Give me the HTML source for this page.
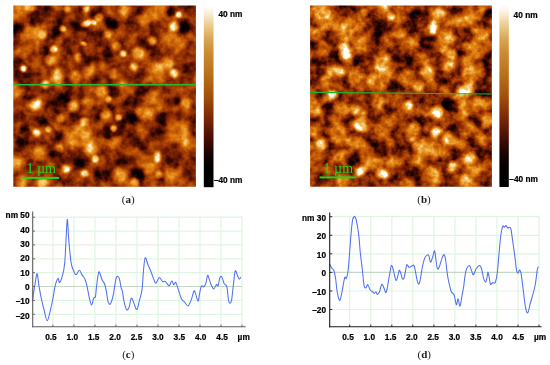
<!DOCTYPE html>
<html><head><meta charset="utf-8"><title>AFM figure</title>
<style>
html,body{margin:0;padding:0;background:#fff;}
svg{display:block}
.ax{font-family:"Liberation Sans",sans-serif;font-weight:bold;font-size:8.3px;fill:#000;stroke:#000;stroke-width:0.2px}
.sb{font-family:"Liberation Serif",serif;font-size:14px;fill:#1fd41f}
.cap{font-family:"Liberation Serif",serif;font-size:11px;fill:#1a1a1a}
</style></head><body>
<svg width="550" height="365" viewBox="0 0 550 365">
<defs>
<filter id="fa" filterUnits="userSpaceOnUse" x="3.3000000000000007" y="-4.4" width="202.6" height="201.2" color-interpolation-filters="sRGB">
<feTurbulence type="fractalNoise" baseFrequency="0.095" numOctaves="3" seed="7" result="t"/>
<feColorMatrix in="t" type="matrix" values="0 1 0 0 0  0 1 0 0 0  0 1 0 0 0  0 0 0 0 1" result="n"/>
<feGaussianBlur in="SourceGraphic" stdDeviation="0.7" result="b"/>
<feComposite in="b" in2="n" operator="arithmetic" k1="0" k2="1.25" k3="0.65" k4="-0.555" result="h0"/>
<feGaussianBlur in="h0" stdDeviation="0.6" result="h"/>
<feComponentTransfer in="h">
<feFuncR type="table" tableValues="0.000 0.025 0.049 0.074 0.125 0.184 0.243 0.300 0.357 0.413 0.466 0.512 0.559 0.603 0.637 0.672 0.706 0.735 0.765 0.794 0.820 0.844 0.869 0.889 0.906 0.923 0.937 0.946 0.955 0.967 0.979 0.990 1.000"/>
<feFuncG type="table" tableValues="0.000 0.002 0.005 0.007 0.018 0.030 0.042 0.060 0.082 0.104 0.128 0.155 0.182 0.210 0.239 0.269 0.298 0.327 0.357 0.386 0.423 0.461 0.499 0.540 0.584 0.628 0.675 0.726 0.776 0.834 0.894 0.949 1.000"/>
<feFuncB type="table" tableValues="0.000 0.000 0.000 0.000 0.002 0.004 0.007 0.009 0.010 0.011 0.012 0.013 0.015 0.016 0.017 0.018 0.020 0.023 0.027 0.031 0.043 0.058 0.073 0.105 0.149 0.193 0.254 0.340 0.425 0.563 0.710 0.855 1.000"/>
</feComponentTransfer>
</filter>
<filter id="fb" filterUnits="userSpaceOnUse" x="300.1" y="-4.4" width="201.8" height="201.2" color-interpolation-filters="sRGB">
<feTurbulence type="fractalNoise" baseFrequency="0.12" numOctaves="3" seed="23" result="t"/>
<feColorMatrix in="t" type="matrix" values="0 1 0 0 0  0 1 0 0 0  0 1 0 0 0  0 0 0 0 1" result="n"/>
<feGaussianBlur in="SourceGraphic" stdDeviation="0.7" result="b"/>
<feComposite in="b" in2="n" operator="arithmetic" k1="0" k2="1.25" k3="0.7" k4="-0.565" result="h0"/>
<feGaussianBlur in="h0" stdDeviation="0.6" result="h"/>
<feComponentTransfer in="h">
<feFuncR type="table" tableValues="0.000 0.025 0.049 0.074 0.125 0.184 0.243 0.300 0.357 0.413 0.466 0.512 0.559 0.603 0.637 0.672 0.706 0.735 0.765 0.794 0.820 0.844 0.869 0.889 0.906 0.923 0.937 0.946 0.955 0.967 0.979 0.990 1.000"/>
<feFuncG type="table" tableValues="0.000 0.002 0.005 0.007 0.018 0.030 0.042 0.060 0.082 0.104 0.128 0.155 0.182 0.210 0.239 0.269 0.298 0.327 0.357 0.386 0.423 0.461 0.499 0.540 0.584 0.628 0.675 0.726 0.776 0.834 0.894 0.949 1.000"/>
<feFuncB type="table" tableValues="0.000 0.000 0.000 0.000 0.002 0.004 0.007 0.009 0.010 0.011 0.012 0.013 0.015 0.016 0.017 0.018 0.020 0.023 0.027 0.031 0.043 0.058 0.073 0.105 0.149 0.193 0.254 0.340 0.425 0.563 0.710 0.855 1.000"/>
</feComponentTransfer>
</filter>
<clipPath id="ca"><rect x="13.3" y="5.6" width="182.6" height="181.2"/></clipPath>
<clipPath id="cbp"><rect x="310.1" y="5.6" width="181.8" height="181.2"/></clipPath>
<radialGradient id="g0"><stop offset="0" stop-color="rgb(173,173,173)" stop-opacity="0.75"/><stop offset="0.42" stop-color="rgb(173,173,173)" stop-opacity="0.66"/><stop offset="0.75" stop-color="rgb(173,173,173)" stop-opacity="0.22"/><stop offset="1" stop-color="rgb(173,173,173)" stop-opacity="0"/></radialGradient>
<radialGradient id="g1"><stop offset="0" stop-color="rgb(96,96,96)" stop-opacity="0.7"/><stop offset="0.42" stop-color="rgb(96,96,96)" stop-opacity="0.62"/><stop offset="0.75" stop-color="rgb(96,96,96)" stop-opacity="0.21"/><stop offset="1" stop-color="rgb(96,96,96)" stop-opacity="0"/></radialGradient>
<radialGradient id="g2"><stop offset="0" stop-color="rgb(201,201,201)" stop-opacity="0.8"/><stop offset="0.42" stop-color="rgb(201,201,201)" stop-opacity="0.70"/><stop offset="0.75" stop-color="rgb(201,201,201)" stop-opacity="0.24"/><stop offset="1" stop-color="rgb(201,201,201)" stop-opacity="0"/></radialGradient>
<radialGradient id="g3"><stop offset="0" stop-color="rgb(91,91,91)" stop-opacity="0.8"/><stop offset="0.42" stop-color="rgb(91,91,91)" stop-opacity="0.70"/><stop offset="0.75" stop-color="rgb(91,91,91)" stop-opacity="0.24"/><stop offset="1" stop-color="rgb(91,91,91)" stop-opacity="0"/></radialGradient>
<radialGradient id="g4"><stop offset="0" stop-color="rgb(221,221,221)" stop-opacity="0.85"/><stop offset="0.42" stop-color="rgb(221,221,221)" stop-opacity="0.75"/><stop offset="0.75" stop-color="rgb(221,221,221)" stop-opacity="0.26"/><stop offset="1" stop-color="rgb(221,221,221)" stop-opacity="0"/></radialGradient>
<radialGradient id="g5"><stop offset="0" stop-color="rgb(71,71,71)" stop-opacity="0.85"/><stop offset="0.42" stop-color="rgb(71,71,71)" stop-opacity="0.75"/><stop offset="0.75" stop-color="rgb(71,71,71)" stop-opacity="0.26"/><stop offset="1" stop-color="rgb(71,71,71)" stop-opacity="0"/></radialGradient>
<radialGradient id="g6"><stop offset="0" stop-color="rgb(51,51,51)" stop-opacity="0.85"/><stop offset="0.42" stop-color="rgb(51,51,51)" stop-opacity="0.75"/><stop offset="0.75" stop-color="rgb(51,51,51)" stop-opacity="0.26"/><stop offset="1" stop-color="rgb(51,51,51)" stop-opacity="0"/></radialGradient>
<radialGradient id="g7"><stop offset="0" stop-color="rgb(237,237,237)" stop-opacity="0.9"/><stop offset="0.42" stop-color="rgb(237,237,237)" stop-opacity="0.79"/><stop offset="0.75" stop-color="rgb(237,237,237)" stop-opacity="0.27"/><stop offset="1" stop-color="rgb(237,237,237)" stop-opacity="0"/></radialGradient>
<radialGradient id="g8"><stop offset="0" stop-color="rgb(255,255,255)" stop-opacity="0.95"/><stop offset="0.42" stop-color="rgb(255,255,255)" stop-opacity="0.84"/><stop offset="0.75" stop-color="rgb(255,255,255)" stop-opacity="0.28"/><stop offset="1" stop-color="rgb(255,255,255)" stop-opacity="0"/></radialGradient>
<linearGradient id="cb" x1="0" y1="0" x2="0" y2="1">
<stop offset="0.000" stop-color="rgb(255,255,255)"/><stop offset="0.040" stop-color="rgb(250,240,220)"/><stop offset="0.100" stop-color="rgb(238,208,150)"/><stop offset="0.180" stop-color="rgb(218,168,84)"/><stop offset="0.250" stop-color="rgb(205,142,54)"/><stop offset="0.380" stop-color="rgb(186,112,24)"/><stop offset="0.500" stop-color="rgb(162,80,9)"/><stop offset="0.600" stop-color="rgb(130,46,7)"/><stop offset="0.680" stop-color="rgb(95,24,5)"/><stop offset="0.750" stop-color="rgb(60,11,4)"/><stop offset="0.820" stop-color="rgb(24,3,2)"/><stop offset="0.880" stop-color="rgb(5,0,0)"/><stop offset="1.000" stop-color="rgb(0,0,0)"/>
</linearGradient>
</defs>
<rect width="550" height="365" fill="#fff"/>
<!-- panel a -->
<g clip-path="url(#ca)"><g filter="url(#fa)">
<rect x="1.3000000000000007" y="-6.4" width="206.6" height="205.2" fill="#808080"/>
<ellipse cx="22" cy="52.5" rx="12.0" ry="12.0" fill="url(#g0)"/>
<ellipse cx="189.3" cy="9" rx="10.0" ry="10.0" fill="url(#g1)"/>
<ellipse cx="87.3" cy="100.1" rx="10.0" ry="10.0" fill="url(#g0)"/>
<ellipse cx="28.7" cy="93.4" rx="10.0" ry="10.0" fill="url(#g1)"/>
<ellipse cx="28.7" cy="167.8" rx="10.0" ry="10.0" fill="url(#g1)"/>
<ellipse cx="114" cy="142.7" rx="12.0" ry="12.0" fill="url(#g0)"/>
<ellipse cx="179.3" cy="142.7" rx="8.0" ry="8.0" fill="url(#g1)"/>
<ellipse cx="16.2" cy="11.5" rx="12.0" ry="12.0" fill="url(#g2)"/>
<ellipse cx="32" cy="32.4" rx="20.0" ry="12.0" fill="url(#g2)" transform="rotate(20 32 32.4)"/>
<ellipse cx="75.5" cy="25.7" rx="10.0" ry="10.0" fill="url(#g3)"/>
<ellipse cx="83.9" cy="34.1" rx="12.0" ry="12.0" fill="url(#g3)"/>
<ellipse cx="70.5" cy="45.8" rx="10.0" ry="10.0" fill="url(#g3)"/>
<ellipse cx="43.8" cy="50.8" rx="8.0" ry="8.0" fill="url(#g3)"/>
<ellipse cx="62.2" cy="57.5" rx="6.0" ry="6.0" fill="url(#g3)"/>
<ellipse cx="99" cy="37.4" rx="10.0" ry="10.0" fill="url(#g3)"/>
<ellipse cx="45.4" cy="10.7" rx="14.0" ry="8.0" fill="url(#g3)"/>
<ellipse cx="62.2" cy="17.4" rx="10.0" ry="10.0" fill="url(#g3)"/>
<ellipse cx="95.6" cy="10.7" rx="10.0" ry="10.0" fill="url(#g3)"/>
<ellipse cx="145.8" cy="19" rx="12.0" ry="12.0" fill="url(#g2)"/>
<ellipse cx="160.9" cy="14" rx="12.0" ry="12.0" fill="url(#g2)"/>
<ellipse cx="169.2" cy="40" rx="12.0" ry="12.0" fill="url(#g2)"/>
<ellipse cx="179.3" cy="45.8" rx="10.0" ry="10.0" fill="url(#g2)"/>
<ellipse cx="144.1" cy="42.5" rx="10.0" ry="10.0" fill="url(#g3)"/>
<ellipse cx="159.2" cy="49.1" rx="12.0" ry="12.0" fill="url(#g3)"/>
<ellipse cx="132.4" cy="25.7" rx="10.0" ry="10.0" fill="url(#g3)"/>
<ellipse cx="154.2" cy="25.7" rx="8.0" ry="8.0" fill="url(#g3)"/>
<ellipse cx="192.6" cy="45.8" rx="8.0" ry="8.0" fill="url(#g3)"/>
<ellipse cx="130.8" cy="60.8" rx="8.0" ry="8.0" fill="url(#g3)"/>
<ellipse cx="154.2" cy="59.2" rx="8.0" ry="8.0" fill="url(#g3)"/>
<ellipse cx="137.4" cy="9" rx="8.0" ry="8.0" fill="url(#g3)"/>
<ellipse cx="17" cy="90" rx="10.0" ry="10.0" fill="url(#g2)"/>
<ellipse cx="90.6" cy="71.7" rx="10.0" ry="10.0" fill="url(#g2)"/>
<ellipse cx="78.9" cy="95.1" rx="10.0" ry="10.0" fill="url(#g3)"/>
<ellipse cx="18.7" cy="113.5" rx="10.0" ry="10.0" fill="url(#g3)"/>
<ellipse cx="95.6" cy="80" rx="10.0" ry="10.0" fill="url(#g3)"/>
<ellipse cx="40.4" cy="121.9" rx="10.0" ry="10.0" fill="url(#g3)"/>
<ellipse cx="99" cy="113.5" rx="10.0" ry="10.0" fill="url(#g3)"/>
<ellipse cx="33.7" cy="71.7" rx="8.0" ry="8.0" fill="url(#g3)"/>
<ellipse cx="157.5" cy="101.8" rx="16.0" ry="16.0" fill="url(#g2)"/>
<ellipse cx="125.7" cy="90.1" rx="14.0" ry="14.0" fill="url(#g2)"/>
<ellipse cx="155.8" cy="70" rx="16.0" ry="16.0" fill="url(#g2)"/>
<ellipse cx="114" cy="73.4" rx="8.0" ry="8.0" fill="url(#g2)"/>
<ellipse cx="152.5" cy="108.5" rx="8.0" ry="8.0" fill="url(#g3)"/>
<ellipse cx="191" cy="70" rx="10.0" ry="10.0" fill="url(#g3)"/>
<ellipse cx="142.5" cy="75" rx="8.0" ry="8.0" fill="url(#g3)"/>
<ellipse cx="110.7" cy="110.2" rx="8.0" ry="8.0" fill="url(#g3)"/>
<ellipse cx="179.3" cy="115.2" rx="10.0" ry="10.0" fill="url(#g3)"/>
<ellipse cx="122.4" cy="75" rx="8.0" ry="8.0" fill="url(#g3)"/>
<ellipse cx="77.2" cy="139.4" rx="16.0" ry="16.0" fill="url(#g2)"/>
<ellipse cx="15.3" cy="162.8" rx="12.0" ry="12.0" fill="url(#g2)"/>
<ellipse cx="38.8" cy="152.8" rx="10.0" ry="10.0" fill="url(#g2)"/>
<ellipse cx="22" cy="181.2" rx="10.0" ry="10.0" fill="url(#g2)"/>
<ellipse cx="83.9" cy="161.1" rx="14.0" ry="14.0" fill="url(#g3)"/>
<ellipse cx="60.5" cy="134.4" rx="8.0" ry="8.0" fill="url(#g3)"/>
<ellipse cx="67.2" cy="182.9" rx="10.0" ry="10.0" fill="url(#g3)"/>
<ellipse cx="52.1" cy="142.7" rx="8.0" ry="8.0" fill="url(#g3)"/>
<ellipse cx="99" cy="132.7" rx="8.0" ry="8.0" fill="url(#g3)"/>
<ellipse cx="70.5" cy="156" rx="8.0" ry="8.0" fill="url(#g3)"/>
<ellipse cx="177.6" cy="132.7" rx="16.0" ry="16.0" fill="url(#g2)"/>
<ellipse cx="144.1" cy="169.5" rx="10.0" ry="10.0" fill="url(#g2)"/>
<ellipse cx="152.5" cy="161" rx="12.0" ry="12.0" fill="url(#g2)"/>
<ellipse cx="189.3" cy="142.7" rx="10.0" ry="10.0" fill="url(#g2)"/>
<ellipse cx="132.4" cy="139.4" rx="12.0" ry="12.0" fill="url(#g3)"/>
<ellipse cx="165.9" cy="152.8" rx="8.0" ry="8.0" fill="url(#g3)"/>
<ellipse cx="109" cy="176.2" rx="10.0" ry="10.0" fill="url(#g3)"/>
<ellipse cx="187.6" cy="174.5" rx="10.0" ry="10.0" fill="url(#g3)"/>
<ellipse cx="159.2" cy="181.2" rx="8.0" ry="8.0" fill="url(#g3)"/>
<ellipse cx="154.2" cy="132.7" rx="10.0" ry="10.0" fill="url(#g3)"/>
<ellipse cx="122.4" cy="159.4" rx="10.0" ry="10.0" fill="url(#g3)"/>
<ellipse cx="145.8" cy="147.7" rx="10.0" ry="10.0" fill="url(#g3)"/>
<ellipse cx="50.1" cy="60.8" rx="8.0" ry="8.0" fill="url(#g4)"/>
<ellipse cx="78.9" cy="57.5" rx="6.0" ry="6.0" fill="url(#g4)"/>
<ellipse cx="29.6" cy="7" rx="8.0" ry="8.0" fill="url(#g4)"/>
<ellipse cx="67.2" cy="9" rx="5.0" ry="5.0" fill="url(#g4)"/>
<ellipse cx="86.4" cy="9" rx="5.0" ry="5.0" fill="url(#g4)"/>
<ellipse cx="99" cy="17.4" rx="6.0" ry="6.0" fill="url(#g4)"/>
<ellipse cx="56.3" cy="33.3" rx="10.0" ry="10.0" fill="url(#g5)"/>
<ellipse cx="17" cy="29" rx="10.0" ry="10.0" fill="url(#g5)"/>
<ellipse cx="16.2" cy="60.8" rx="10.0" ry="10.0" fill="url(#g5)"/>
<ellipse cx="87.2" cy="57.5" rx="10.0" ry="10.0" fill="url(#g5)"/>
<ellipse cx="138.3" cy="53.3" rx="10.0" ry="10.0" fill="url(#g4)"/>
<ellipse cx="152.5" cy="40.8" rx="6.0" ry="6.0" fill="url(#g4)"/>
<ellipse cx="124.9" cy="10.7" rx="8.0" ry="8.0" fill="url(#g4)"/>
<ellipse cx="168.4" cy="61.7" rx="8.0" ry="8.0" fill="url(#g4)"/>
<ellipse cx="108.2" cy="34.1" rx="6.0" ry="6.0" fill="url(#g4)"/>
<ellipse cx="116.5" cy="45.8" rx="6.0" ry="6.0" fill="url(#g4)"/>
<ellipse cx="170.9" cy="12.4" rx="8.0" ry="8.0" fill="url(#g5)"/>
<ellipse cx="107.3" cy="52.5" rx="8.0" ry="8.0" fill="url(#g5)"/>
<ellipse cx="57.2" cy="77.5" rx="8.0" ry="14.0" fill="url(#g4)"/>
<ellipse cx="75.5" cy="76.7" rx="8.0" ry="8.0" fill="url(#g4)"/>
<ellipse cx="60.5" cy="118.5" rx="6.0" ry="6.0" fill="url(#g4)"/>
<ellipse cx="102.3" cy="91.8" rx="8.0" ry="8.0" fill="url(#g4)"/>
<ellipse cx="23.7" cy="78.4" rx="12.0" ry="12.0" fill="url(#g5)"/>
<ellipse cx="52.1" cy="105.1" rx="12.0" ry="12.0" fill="url(#g5)"/>
<ellipse cx="75.5" cy="116.8" rx="10.0" ry="10.0" fill="url(#g5)"/>
<ellipse cx="134.1" cy="66.7" rx="6.0" ry="6.0" fill="url(#g4)"/>
<ellipse cx="105.7" cy="115.2" rx="8.0" ry="8.0" fill="url(#g4)"/>
<ellipse cx="185.9" cy="102.6" rx="8.0" ry="8.0" fill="url(#g4)"/>
<ellipse cx="142.5" cy="111.8" rx="16.0" ry="10.0" fill="url(#g4)" transform="rotate(20 142.5 111.8)"/>
<ellipse cx="105.7" cy="90" rx="6.0" ry="6.0" fill="url(#g4)"/>
<ellipse cx="114" cy="93.4" rx="10.0" ry="10.0" fill="url(#g5)"/>
<ellipse cx="139.1" cy="90.1" rx="10.0" ry="10.0" fill="url(#g5)"/>
<ellipse cx="129.1" cy="118.5" rx="16.0" ry="10.0" fill="url(#g5)" transform="rotate(-20 129.1 118.5)"/>
<ellipse cx="172.6" cy="101" rx="10.0" ry="10.0" fill="url(#g5)"/>
<ellipse cx="161.7" cy="118.5" rx="10.0" ry="10.0" fill="url(#g5)"/>
<ellipse cx="59.7" cy="148.6" rx="6.0" ry="6.0" fill="url(#g4)"/>
<ellipse cx="83.9" cy="131" rx="14.0" ry="14.0" fill="url(#g4)"/>
<ellipse cx="92.3" cy="148.6" rx="10.0" ry="10.0" fill="url(#g4)"/>
<ellipse cx="42.1" cy="183.7" rx="8.0" ry="8.0" fill="url(#g4)"/>
<ellipse cx="22.9" cy="144.4" rx="10.0" ry="10.0" fill="url(#g5)"/>
<ellipse cx="24.5" cy="131" rx="8.0" ry="8.0" fill="url(#g5)"/>
<ellipse cx="56.3" cy="156.1" rx="10.0" ry="10.0" fill="url(#g5)"/>
<ellipse cx="100.6" cy="174.5" rx="10.0" ry="10.0" fill="url(#g5)"/>
<ellipse cx="120.7" cy="176.2" rx="10.0" ry="10.0" fill="url(#g4)"/>
<ellipse cx="171.7" cy="172.8" rx="12.0" ry="12.0" fill="url(#g4)"/>
<ellipse cx="159.2" cy="174.5" rx="6.0" ry="6.0" fill="url(#g4)"/>
<ellipse cx="108.2" cy="132.7" rx="12.0" ry="12.0" fill="url(#g5)"/>
<ellipse cx="172.6" cy="161.1" rx="12.0" ry="12.0" fill="url(#g5)"/>
<ellipse cx="35.4" cy="19" rx="10.0" ry="10.0" fill="url(#g6)"/>
<ellipse cx="110.7" cy="23.2" rx="10.0" ry="10.0" fill="url(#g6)"/>
<ellipse cx="184.3" cy="26.6" rx="10.0" ry="10.0" fill="url(#g6)"/>
<ellipse cx="62.2" cy="98.4" rx="10.0" ry="10.0" fill="url(#g6)"/>
<ellipse cx="130.8" cy="101.8" rx="12.0" ry="12.0" fill="url(#g6)"/>
<ellipse cx="137.4" cy="173.7" rx="10.0" ry="10.0" fill="url(#g6)"/>
<ellipse cx="63" cy="28.7" rx="4.7" ry="4.7" fill="url(#g7)"/>
<ellipse cx="94" cy="22.4" rx="3.9" ry="3.9" fill="url(#g7)"/>
<ellipse cx="83.6" cy="43.8" rx="4.7" ry="3.1" fill="url(#g7)" transform="rotate(20 83.6 43.8)"/>
<ellipse cx="53.8" cy="49.1" rx="5.4" ry="5.4" fill="url(#g7)"/>
<ellipse cx="174.2" cy="26.6" rx="7.0" ry="7.0" fill="url(#g7)"/>
<ellipse cx="178.9" cy="14.9" rx="4.7" ry="4.7" fill="url(#g7)"/>
<ellipse cx="45.4" cy="84.7" rx="6.2" ry="6.2" fill="url(#g7)"/>
<ellipse cx="35.4" cy="105.1" rx="10.8" ry="7.8" fill="url(#g7)"/>
<ellipse cx="73" cy="106.8" rx="7.8" ry="7.8" fill="url(#g7)"/>
<ellipse cx="84.7" cy="121.9" rx="6.2" ry="6.2" fill="url(#g7)"/>
<ellipse cx="108.2" cy="99.3" rx="4.7" ry="4.7" fill="url(#g7)"/>
<ellipse cx="118.7" cy="117.7" rx="4.7" ry="4.7" fill="url(#g7)"/>
<ellipse cx="36.7" cy="133" rx="5.4" ry="5.4" fill="url(#g7)"/>
<ellipse cx="48.5" cy="129.3" rx="4.7" ry="4.7" fill="url(#g7)"/>
<ellipse cx="84.7" cy="173.7" rx="5.4" ry="5.4" fill="url(#g7)"/>
<ellipse cx="66.3" cy="168.6" rx="6.2" ry="6.2" fill="url(#g7)"/>
<ellipse cx="113.7" cy="128.5" rx="4.7" ry="4.7" fill="url(#g7)"/>
<ellipse cx="134.9" cy="182.9" rx="6.2" ry="6.2" fill="url(#g7)"/>
<ellipse cx="42.1" cy="34.9" rx="6.2" ry="6.2" fill="url(#g8)"/>
<ellipse cx="87.2" cy="23.2" rx="7.8" ry="4.7" fill="url(#g8)" transform="rotate(-20 87.2 23.2)"/>
<ellipse cx="123.2" cy="53.8" rx="4.7" ry="4.7" fill="url(#g8)"/>
<ellipse cx="23.4" cy="68.7" rx="4.7" ry="4.7" fill="url(#g8)"/>
<ellipse cx="174.2" cy="73.4" rx="6.2" ry="6.2" fill="url(#g8)"/>
<ellipse cx="95.3" cy="159.1" rx="5.4" ry="5.4" fill="url(#g8)"/>
<ellipse cx="157.2" cy="156.9" rx="5.4" ry="7.8" fill="url(#g8)"/>
</g></g>
<line x1="13.3" y1="84.7" x2="195.9" y2="84.7" stroke="#25b830" stroke-width="1.5"/>
<rect x="22.4" y="176.9" width="36.8" height="2" fill="#1fd41f"/>
<text class="sb" x="41.2" y="173" text-anchor="middle">1 µm</text>
<rect x="203.8" y="5.6" width="9.7" height="181.6" fill="url(#cb)"/>
<text class="ax" x="218.4" y="17">40 nm</text>
<text class="ax" x="213.9" y="182.8">–40 nm</text>
<text class="cap" x="128.2" y="203.1" text-anchor="middle">(<tspan font-weight="bold">a</tspan>)</text>
<!-- panel b -->
<g clip-path="url(#cbp)"><g filter="url(#fb)">
<rect x="298.1" y="-6.4" width="205.8" height="205.2" fill="#808080"/>
<ellipse cx="325.7" cy="47.5" rx="10.0" ry="10.0" fill="url(#g0)"/>
<ellipse cx="384.3" cy="44.1" rx="10.0" ry="10.0" fill="url(#g0)"/>
<ellipse cx="422.7" cy="59.2" rx="10.0" ry="10.0" fill="url(#g0)"/>
<ellipse cx="335.8" cy="116.8" rx="10.0" ry="10.0" fill="url(#g0)"/>
<ellipse cx="444.5" cy="86.7" rx="8.0" ry="8.0" fill="url(#g0)"/>
<ellipse cx="389.3" cy="139.4" rx="10.0" ry="10.0" fill="url(#g0)"/>
<ellipse cx="314" cy="159.4" rx="10.0" ry="10.0" fill="url(#g0)"/>
<ellipse cx="369.2" cy="151.1" rx="10.0" ry="10.0" fill="url(#g0)"/>
<ellipse cx="484.6" cy="166.1" rx="10.0" ry="10.0" fill="url(#g0)"/>
<ellipse cx="337.4" cy="22.4" rx="14.0" ry="14.0" fill="url(#g2)"/>
<ellipse cx="345.8" cy="32.4" rx="14.0" ry="14.0" fill="url(#g2)"/>
<ellipse cx="354.2" cy="20.7" rx="12.0" ry="12.0" fill="url(#g2)"/>
<ellipse cx="314" cy="34.1" rx="10.0" ry="10.0" fill="url(#g2)"/>
<ellipse cx="325.7" cy="25.7" rx="10.0" ry="10.0" fill="url(#g2)"/>
<ellipse cx="397.6" cy="32.4" rx="10.0" ry="10.0" fill="url(#g2)"/>
<ellipse cx="352.5" cy="10.7" rx="10.0" ry="10.0" fill="url(#g3)"/>
<ellipse cx="372.5" cy="17.4" rx="12.0" ry="12.0" fill="url(#g3)"/>
<ellipse cx="372.5" cy="49.1" rx="14.0" ry="14.0" fill="url(#g3)"/>
<ellipse cx="314" cy="45.8" rx="8.0" ry="8.0" fill="url(#g3)"/>
<ellipse cx="375.9" cy="37.4" rx="12.0" ry="12.0" fill="url(#g3)"/>
<ellipse cx="319" cy="59.2" rx="10.0" ry="10.0" fill="url(#g3)"/>
<ellipse cx="330.7" cy="37.4" rx="10.0" ry="10.0" fill="url(#g3)"/>
<ellipse cx="394.3" cy="54.2" rx="10.0" ry="10.0" fill="url(#g3)"/>
<ellipse cx="314" cy="22.4" rx="8.0" ry="8.0" fill="url(#g3)"/>
<ellipse cx="419.4" cy="40" rx="10.0" ry="10.0" fill="url(#g2)"/>
<ellipse cx="403.5" cy="12.4" rx="12.0" ry="12.0" fill="url(#g2)"/>
<ellipse cx="454.5" cy="22.4" rx="10.0" ry="10.0" fill="url(#g2)"/>
<ellipse cx="474.6" cy="49.1" rx="14.0" ry="14.0" fill="url(#g2)"/>
<ellipse cx="481.3" cy="34.1" rx="12.0" ry="12.0" fill="url(#g2)"/>
<ellipse cx="484.6" cy="9" rx="10.0" ry="10.0" fill="url(#g2)"/>
<ellipse cx="408.5" cy="43.3" rx="8.0" ry="8.0" fill="url(#g2)"/>
<ellipse cx="467.9" cy="60.9" rx="10.0" ry="10.0" fill="url(#g2)"/>
<ellipse cx="412.7" cy="29.1" rx="12.0" ry="12.0" fill="url(#g3)"/>
<ellipse cx="461.2" cy="37.4" rx="12.0" ry="12.0" fill="url(#g3)"/>
<ellipse cx="456.2" cy="10.7" rx="10.0" ry="10.0" fill="url(#g3)"/>
<ellipse cx="481.3" cy="20.7" rx="10.0" ry="10.0" fill="url(#g3)"/>
<ellipse cx="437.8" cy="52.5" rx="8.0" ry="8.0" fill="url(#g3)"/>
<ellipse cx="459.5" cy="52.5" rx="8.0" ry="8.0" fill="url(#g3)"/>
<ellipse cx="488" cy="59.2" rx="10.0" ry="10.0" fill="url(#g3)"/>
<ellipse cx="467.9" cy="30.8" rx="6.0" ry="6.0" fill="url(#g3)"/>
<ellipse cx="331.6" cy="71.7" rx="10.0" ry="10.0" fill="url(#g2)"/>
<ellipse cx="354.2" cy="76.7" rx="12.0" ry="12.0" fill="url(#g2)"/>
<ellipse cx="324" cy="83.4" rx="10.0" ry="10.0" fill="url(#g2)"/>
<ellipse cx="375.9" cy="80" rx="16.0" ry="16.0" fill="url(#g2)"/>
<ellipse cx="387.6" cy="75" rx="10.0" ry="10.0" fill="url(#g2)"/>
<ellipse cx="379.2" cy="101.8" rx="12.0" ry="12.0" fill="url(#g2)"/>
<ellipse cx="315.7" cy="108.5" rx="12.0" ry="12.0" fill="url(#g2)"/>
<ellipse cx="340.8" cy="108.5" rx="10.0" ry="10.0" fill="url(#g2)"/>
<ellipse cx="327.4" cy="100.1" rx="8.0" ry="8.0" fill="url(#g2)"/>
<ellipse cx="390.9" cy="120.2" rx="10.0" ry="10.0" fill="url(#g2)"/>
<ellipse cx="397.6" cy="101.8" rx="8.0" ry="8.0" fill="url(#g2)"/>
<ellipse cx="364.2" cy="116.8" rx="8.0" ry="8.0" fill="url(#g2)"/>
<ellipse cx="344.1" cy="98.4" rx="10.0" ry="10.0" fill="url(#g3)"/>
<ellipse cx="315.7" cy="81.7" rx="10.0" ry="10.0" fill="url(#g3)"/>
<ellipse cx="319" cy="70" rx="10.0" ry="10.0" fill="url(#g3)"/>
<ellipse cx="367.5" cy="95.1" rx="10.0" ry="10.0" fill="url(#g3)"/>
<ellipse cx="389.3" cy="110.2" rx="10.0" ry="10.0" fill="url(#g3)"/>
<ellipse cx="372.5" cy="115.2" rx="10.0" ry="10.0" fill="url(#g3)"/>
<ellipse cx="347.5" cy="118.5" rx="8.0" ry="8.0" fill="url(#g3)"/>
<ellipse cx="322.4" cy="121.9" rx="10.0" ry="10.0" fill="url(#g3)"/>
<ellipse cx="364.2" cy="70" rx="8.0" ry="8.0" fill="url(#g3)"/>
<ellipse cx="345.8" cy="85.1" rx="6.0" ry="6.0" fill="url(#g3)"/>
<ellipse cx="432.8" cy="80" rx="10.0" ry="10.0" fill="url(#g2)"/>
<ellipse cx="409.4" cy="78.4" rx="12.0" ry="12.0" fill="url(#g2)"/>
<ellipse cx="471.2" cy="75" rx="16.0" ry="16.0" fill="url(#g2)"/>
<ellipse cx="459.5" cy="100.1" rx="12.0" ry="12.0" fill="url(#g2)"/>
<ellipse cx="464.5" cy="113.5" rx="10.0" ry="10.0" fill="url(#g2)"/>
<ellipse cx="477.9" cy="103.5" rx="12.0" ry="12.0" fill="url(#g2)"/>
<ellipse cx="422.7" cy="115.2" rx="8.0" ry="8.0" fill="url(#g2)"/>
<ellipse cx="417.7" cy="86.7" rx="8.0" ry="8.0" fill="url(#g2)"/>
<ellipse cx="486.3" cy="120.2" rx="10.0" ry="10.0" fill="url(#g2)"/>
<ellipse cx="417.7" cy="71.7" rx="10.0" ry="10.0" fill="url(#g3)"/>
<ellipse cx="454.5" cy="81.7" rx="10.0" ry="10.0" fill="url(#g3)"/>
<ellipse cx="426.1" cy="98.4" rx="10.0" ry="10.0" fill="url(#g3)"/>
<ellipse cx="417.7" cy="118.5" rx="10.0" ry="10.0" fill="url(#g3)"/>
<ellipse cx="403.5" cy="98.4" rx="8.0" ry="8.0" fill="url(#g3)"/>
<ellipse cx="474.6" cy="120.2" rx="10.0" ry="10.0" fill="url(#g3)"/>
<ellipse cx="456.2" cy="71.7" rx="8.0" ry="8.0" fill="url(#g3)"/>
<ellipse cx="488" cy="70" rx="8.0" ry="8.0" fill="url(#g3)"/>
<ellipse cx="426.1" cy="121.9" rx="8.0" ry="8.0" fill="url(#g3)"/>
<ellipse cx="339.1" cy="134.4" rx="14.0" ry="14.0" fill="url(#g2)"/>
<ellipse cx="372.5" cy="162.8" rx="12.0" ry="12.0" fill="url(#g2)"/>
<ellipse cx="314" cy="131" rx="10.0" ry="10.0" fill="url(#g2)"/>
<ellipse cx="392.6" cy="161.1" rx="12.0" ry="12.0" fill="url(#g2)"/>
<ellipse cx="379.2" cy="131" rx="10.0" ry="10.0" fill="url(#g2)"/>
<ellipse cx="342.4" cy="181.2" rx="10.0" ry="10.0" fill="url(#g2)"/>
<ellipse cx="397.6" cy="151.1" rx="10.0" ry="10.0" fill="url(#g3)"/>
<ellipse cx="329.1" cy="151.1" rx="10.0" ry="10.0" fill="url(#g3)"/>
<ellipse cx="370.9" cy="176.2" rx="10.0" ry="10.0" fill="url(#g3)"/>
<ellipse cx="350.8" cy="132.7" rx="8.0" ry="8.0" fill="url(#g3)"/>
<ellipse cx="372.5" cy="137.7" rx="10.0" ry="10.0" fill="url(#g3)"/>
<ellipse cx="396" cy="182.9" rx="10.0" ry="10.0" fill="url(#g3)"/>
<ellipse cx="319" cy="181.2" rx="10.0" ry="10.0" fill="url(#g3)"/>
<ellipse cx="349.1" cy="169.5" rx="8.0" ry="8.0" fill="url(#g3)"/>
<ellipse cx="325.7" cy="136" rx="8.0" ry="8.0" fill="url(#g3)"/>
<ellipse cx="392.6" cy="132.7" rx="8.0" ry="8.0" fill="url(#g3)"/>
<ellipse cx="417.7" cy="162.8" rx="12.0" ry="12.0" fill="url(#g2)"/>
<ellipse cx="457.9" cy="142.7" rx="8.0" ry="8.0" fill="url(#g2)"/>
<ellipse cx="471.2" cy="171.2" rx="12.0" ry="12.0" fill="url(#g2)"/>
<ellipse cx="467.9" cy="129.3" rx="10.0" ry="10.0" fill="url(#g2)"/>
<ellipse cx="481.3" cy="142.7" rx="10.0" ry="10.0" fill="url(#g2)"/>
<ellipse cx="414.4" cy="127.7" rx="8.0" ry="8.0" fill="url(#g2)"/>
<ellipse cx="406" cy="182.9" rx="10.0" ry="10.0" fill="url(#g2)"/>
<ellipse cx="426.1" cy="136" rx="10.0" ry="10.0" fill="url(#g3)"/>
<ellipse cx="406" cy="147.7" rx="12.0" ry="12.0" fill="url(#g3)"/>
<ellipse cx="456.2" cy="129.3" rx="12.0" ry="12.0" fill="url(#g3)"/>
<ellipse cx="456.2" cy="154.4" rx="10.0" ry="10.0" fill="url(#g3)"/>
<ellipse cx="446.2" cy="176.2" rx="10.0" ry="10.0" fill="url(#g3)"/>
<ellipse cx="417.7" cy="182.9" rx="8.0" ry="8.0" fill="url(#g3)"/>
<ellipse cx="484.6" cy="179.5" rx="10.0" ry="10.0" fill="url(#g3)"/>
<ellipse cx="442.8" cy="159.4" rx="8.0" ry="8.0" fill="url(#g3)"/>
<ellipse cx="474.6" cy="142.7" rx="8.0" ry="8.0" fill="url(#g3)"/>
<ellipse cx="343.3" cy="48.3" rx="8.0" ry="8.0" fill="url(#g4)"/>
<ellipse cx="322.4" cy="12.4" rx="18.0" ry="14.0" fill="url(#g4)"/>
<ellipse cx="382.6" cy="9" rx="10.0" ry="10.0" fill="url(#g4)"/>
<ellipse cx="360.8" cy="45.8" rx="12.0" ry="12.0" fill="url(#g4)"/>
<ellipse cx="364.2" cy="12.4" rx="5.0" ry="5.0" fill="url(#g4)"/>
<ellipse cx="382.6" cy="62.5" rx="12.0" ry="12.0" fill="url(#g4)"/>
<ellipse cx="340.8" cy="9" rx="12.0" ry="12.0" fill="url(#g5)"/>
<ellipse cx="380.9" cy="27.4" rx="14.0" ry="14.0" fill="url(#g5)"/>
<ellipse cx="334.1" cy="55.8" rx="10.0" ry="10.0" fill="url(#g5)"/>
<ellipse cx="359.2" cy="57.5" rx="10.0" ry="10.0" fill="url(#g5)"/>
<ellipse cx="467.9" cy="18.2" rx="14.0" ry="10.0" fill="url(#g4)"/>
<ellipse cx="446.2" cy="37.4" rx="12.0" ry="12.0" fill="url(#g4)"/>
<ellipse cx="437.8" cy="14" rx="10.0" ry="10.0" fill="url(#g4)"/>
<ellipse cx="443.6" cy="49.1" rx="6.0" ry="6.0" fill="url(#g4)"/>
<ellipse cx="416.1" cy="17.4" rx="18.0" ry="14.0" fill="url(#g5)"/>
<ellipse cx="426.1" cy="42.5" rx="12.0" ry="12.0" fill="url(#g5)"/>
<ellipse cx="489.6" cy="14" rx="8.0" ry="8.0" fill="url(#g5)"/>
<ellipse cx="355" cy="108.5" rx="8.0" ry="8.0" fill="url(#g4)"/>
<ellipse cx="339.9" cy="72.5" rx="8.0" ry="8.0" fill="url(#g4)"/>
<ellipse cx="380.9" cy="66.7" rx="8.0" ry="8.0" fill="url(#g4)"/>
<ellipse cx="392.6" cy="85.9" rx="10.0" ry="10.0" fill="url(#g5)"/>
<ellipse cx="327.4" cy="108.5" rx="10.0" ry="10.0" fill="url(#g5)"/>
<ellipse cx="448.7" cy="66.7" rx="8.0" ry="8.0" fill="url(#g4)"/>
<ellipse cx="426.1" cy="71.7" rx="10.0" ry="10.0" fill="url(#g4)"/>
<ellipse cx="482.9" cy="88.4" rx="12.0" ry="12.0" fill="url(#g5)"/>
<ellipse cx="441.1" cy="80" rx="10.0" ry="10.0" fill="url(#g5)"/>
<ellipse cx="321.5" cy="144.4" rx="10.0" ry="10.0" fill="url(#g4)"/>
<ellipse cx="353.3" cy="141.9" rx="10.0" ry="10.0" fill="url(#g4)"/>
<ellipse cx="338.3" cy="156.9" rx="10.0" ry="6.0" fill="url(#g4)" transform="rotate(-40 338.3 156.9)"/>
<ellipse cx="354.2" cy="158.6" rx="10.0" ry="10.0" fill="url(#g5)"/>
<ellipse cx="379.2" cy="147.7" rx="12.0" ry="12.0" fill="url(#g5)"/>
<ellipse cx="449.5" cy="139.4" rx="10.0" ry="10.0" fill="url(#g4)"/>
<ellipse cx="422.7" cy="146.9" rx="12.0" ry="12.0" fill="url(#g4)"/>
<ellipse cx="434.4" cy="149.4" rx="12.0" ry="12.0" fill="url(#g4)"/>
<ellipse cx="411.9" cy="136" rx="8.0" ry="8.0" fill="url(#g4)"/>
<ellipse cx="432.8" cy="176.2" rx="12.0" ry="12.0" fill="url(#g4)"/>
<ellipse cx="467.9" cy="181.2" rx="10.0" ry="10.0" fill="url(#g4)"/>
<ellipse cx="484.6" cy="154.4" rx="14.0" ry="10.0" fill="url(#g5)"/>
<ellipse cx="406" cy="59.2" rx="12.0" ry="12.0" fill="url(#g6)"/>
<ellipse cx="449.5" cy="105.1" rx="12.0" ry="12.0" fill="url(#g6)"/>
<ellipse cx="411" cy="171.2" rx="16.0" ry="9.0" fill="url(#g6)"/>
<ellipse cx="390.9" cy="15.7" rx="6.2" ry="6.2" fill="url(#g7)"/>
<ellipse cx="433" cy="32" rx="4.7" ry="4.7" fill="url(#g7)"/>
<ellipse cx="451.2" cy="54.2" rx="7.8" ry="7.8" fill="url(#g7)"/>
<ellipse cx="332.4" cy="94.3" rx="7.8" ry="6.2" fill="url(#g7)" transform="rotate(25 332.4 94.3)"/>
<ellipse cx="437.8" cy="112.7" rx="10.8" ry="9.3" fill="url(#g7)"/>
<ellipse cx="408.5" cy="106.8" rx="7.8" ry="7.8" fill="url(#g7)"/>
<ellipse cx="452.8" cy="167" rx="7.8" ry="7.8" fill="url(#g7)"/>
<ellipse cx="346.6" cy="54.2" rx="9.3" ry="9.3" fill="url(#g8)"/>
<ellipse cx="433.6" cy="25.7" rx="7.0" ry="9.3" fill="url(#g8)"/>
<ellipse cx="359.2" cy="123.5" rx="7.8" ry="7.8" fill="url(#g8)"/>
<ellipse cx="464.5" cy="90.1" rx="10.8" ry="8.5" fill="url(#g8)"/>
<ellipse cx="362.5" cy="127.7" rx="7.8" ry="6.2" fill="url(#g8)"/>
<ellipse cx="360.8" cy="171.2" rx="10.8" ry="6.2" fill="url(#g8)" transform="rotate(-35 360.8 171.2)"/>
<ellipse cx="382.6" cy="173.7" rx="9.3" ry="7.0" fill="url(#g8)" transform="rotate(25 382.6 173.7)"/>
<ellipse cx="436.1" cy="131.9" rx="7.8" ry="7.8" fill="url(#g8)"/>
<ellipse cx="469.6" cy="157.8" rx="9.3" ry="7.8" fill="url(#g8)"/>
</g></g>
<line x1="310.1" y1="92.4" x2="491.90000000000003" y2="94" stroke="#1fb52a" stroke-width="1.2"/>
<rect x="319.5" y="176.4" width="36.3" height="2" fill="#1fd41f"/>
<text class="sb" x="338.3" y="172.6" text-anchor="middle">1 µm</text>
<rect x="499.4" y="5.6" width="9.4" height="181.4" fill="url(#cb)"/>
<text class="ax" x="513.6" y="18">40 nm</text>
<text class="ax" x="509.3" y="181.9">–40 nm</text>
<text class="cap" x="424" y="203.1" text-anchor="middle">(<tspan font-weight="bold">b</tspan>)</text>
<!-- chart c -->
<line x1="52.9" y1="216.5" x2="52.9" y2="327" stroke="#e0f5e1" stroke-width="1.2"/>
<line x1="73.9" y1="216.5" x2="73.9" y2="327" stroke="#e0f5e1" stroke-width="1.2"/>
<line x1="94.9" y1="216.5" x2="94.9" y2="327" stroke="#e0f5e1" stroke-width="1.2"/>
<line x1="115.9" y1="216.5" x2="115.9" y2="327" stroke="#e0f5e1" stroke-width="1.2"/>
<line x1="137.0" y1="216.5" x2="137.0" y2="327" stroke="#e0f5e1" stroke-width="1.2"/>
<line x1="158.0" y1="216.5" x2="158.0" y2="327" stroke="#e0f5e1" stroke-width="1.2"/>
<line x1="179.0" y1="216.5" x2="179.0" y2="327" stroke="#e0f5e1" stroke-width="1.2"/>
<line x1="200.0" y1="216.5" x2="200.0" y2="327" stroke="#e0f5e1" stroke-width="1.2"/>
<line x1="221.0" y1="216.5" x2="221.0" y2="327" stroke="#e0f5e1" stroke-width="1.2"/>
<line x1="242.0" y1="216.5" x2="242.0" y2="327" stroke="#e0f5e1" stroke-width="1.2"/>
<line x1="33" y1="217.2" x2="242" y2="217.2" stroke="#e0f5e1" stroke-width="1.2"/>
<line x1="33" y1="231.1" x2="242" y2="231.1" stroke="#e0f5e1" stroke-width="1.2"/>
<line x1="33" y1="244.9" x2="242" y2="244.9" stroke="#e0f5e1" stroke-width="1.2"/>
<line x1="33" y1="258.8" x2="242" y2="258.8" stroke="#e0f5e1" stroke-width="1.2"/>
<line x1="33" y1="272.7" x2="242" y2="272.7" stroke="#e0f5e1" stroke-width="1.2"/>
<line x1="33" y1="286.5" x2="242" y2="286.5" stroke="#c4d6c4" stroke-width="1.2"/>
<line x1="33" y1="300.4" x2="242" y2="300.4" stroke="#e0f5e1" stroke-width="1.2"/>
<line x1="33" y1="314.3" x2="242" y2="314.3" stroke="#e0f5e1" stroke-width="1.2"/>
<path d="M32.3 301.4C32.7 298.9 33.8 291.2 34.6 286.6C35.4 282.0 36.3 274.9 36.9 273.8C37.5 272.7 37.8 277.4 38.2 280.0C38.6 282.6 38.9 285.7 39.5 289.1C40.1 292.5 41.0 297.2 41.8 300.6C42.5 304.0 43.1 306.2 44.0 309.6C44.9 313.0 46.1 320.8 47.2 320.8C48.3 320.8 49.5 313.4 50.5 309.6C51.5 305.8 52.2 301.9 53.0 298.1C53.8 294.3 54.2 289.9 55.0 286.6C55.8 283.3 57.1 279.1 57.9 278.4C58.7 277.7 58.8 283.2 59.6 282.5C60.4 281.8 61.9 277.7 62.8 274.3C63.7 270.9 64.2 268.4 64.8 262.0C65.4 255.6 65.8 243.1 66.2 236.0C66.6 228.9 67.0 218.8 67.4 219.5C67.8 220.2 68.2 232.9 68.8 240.0C69.4 247.1 70.3 257.1 71.0 262.0C71.7 266.9 72.2 267.3 73.0 269.4C73.8 271.5 75.0 274.7 76.0 274.8C77.0 274.9 78.3 270.1 79.3 270.2C80.3 270.2 81.2 273.6 82.2 275.1C83.2 276.6 84.2 277.3 85.0 279.2C85.8 281.1 86.4 283.5 87.1 286.6C87.8 289.8 88.7 295.0 89.4 298.1C90.2 301.2 90.9 305.0 91.6 305.0C92.3 305.0 93.1 299.5 93.7 298.1C94.3 296.7 94.9 298.7 95.4 296.8C95.9 294.9 96.0 290.2 96.5 286.6C97.0 283.0 97.6 277.6 98.1 275.1C98.6 272.7 98.6 271.1 99.3 271.9C100.0 272.7 101.3 277.9 102.2 280.0C103.1 282.1 104.0 282.3 104.7 284.2C105.4 286.1 105.9 288.7 106.4 291.6C107.0 294.5 107.3 299.3 108.0 301.4C108.7 303.4 109.6 305.0 110.5 303.9C111.4 302.8 112.4 298.7 113.3 294.7C114.2 290.7 115.0 283.0 115.7 279.9C116.4 276.8 116.8 276.4 117.4 276.3C118.0 276.2 118.9 277.1 119.5 279.1C120.1 281.1 120.7 286.2 121.2 288.1C121.7 290.0 121.8 288.4 122.3 290.6C122.8 292.8 123.3 298.2 124.0 301.3C124.7 304.4 125.6 308.4 126.4 309.5C127.2 310.6 128.1 309.7 128.9 307.8C129.7 305.9 130.5 299.1 131.3 298.3C132.1 297.5 132.9 301.0 133.8 302.9C134.7 304.8 135.8 310.1 136.8 309.5C137.8 308.9 138.7 302.9 139.6 299.6C140.5 296.3 141.3 295.0 142.0 289.8C142.7 284.6 143.1 273.8 143.7 268.4C144.2 263.0 144.6 258.4 145.3 257.7C146.0 257.0 146.9 262.0 147.8 264.3C148.8 266.6 150.0 269.1 151.0 271.7C152.0 274.3 153.2 278.0 154.0 279.9C154.8 281.8 155.1 283.6 156.0 283.2C156.9 282.8 158.2 277.8 159.3 277.5C160.4 277.2 161.6 281.0 162.5 281.6C163.4 282.2 164.3 280.9 165.0 281.2C165.7 281.5 166.0 282.4 166.7 283.2C167.4 283.9 168.5 286.1 169.4 285.7C170.3 285.3 171.2 280.8 171.9 280.7C172.6 280.6 173.1 284.5 173.7 284.8C174.3 285.1 175.0 281.7 175.7 282.4C176.4 283.1 177.1 286.2 178.1 288.9C179.1 291.6 180.3 296.6 181.4 298.8C182.5 301.0 183.6 300.9 184.7 302.1C185.8 303.3 186.9 306.3 188.0 305.9C189.1 305.5 190.3 302.1 191.3 299.6C192.3 297.1 193.3 291.8 194.0 290.9C194.7 289.9 194.9 292.2 195.6 293.9C196.3 295.6 197.5 301.2 198.1 301.3C198.7 301.4 198.9 297.2 199.4 294.7C199.9 292.2 200.6 287.5 201.3 286.2C202.0 284.9 203.0 287.3 203.8 286.8C204.6 286.3 205.3 285.1 205.9 283.2C206.5 281.3 207.1 276.0 207.6 275.3C208.1 274.6 208.6 277.5 209.2 279.1C209.8 280.7 210.4 283.2 211.2 284.8C211.9 286.4 212.8 288.9 213.7 288.9C214.6 288.8 215.8 285.0 216.5 284.5C217.2 284.0 217.6 286.7 218.1 285.7C218.6 284.7 219.2 279.9 219.7 278.3C220.2 276.7 220.6 276.2 221.1 276.3C221.6 276.4 222.2 277.8 222.7 279.1C223.2 280.4 223.6 282.8 224.3 284.0C225.0 285.2 226.1 283.9 226.8 286.5C227.5 289.1 227.9 296.8 228.4 299.6C228.9 302.4 229.6 303.2 230.1 303.2C230.6 303.2 231.1 302.7 231.7 299.6C232.2 296.5 232.8 289.5 233.4 284.8C234.0 280.1 234.5 273.9 235.0 271.7C235.5 269.5 235.8 271.0 236.2 271.7C236.6 272.4 237.0 274.6 237.5 275.8C238.0 277.0 238.8 278.9 239.4 279.1C240.0 279.3 240.6 277.4 240.8 277.0" fill="none" stroke="#4f70ee" stroke-width="1.05" stroke-linejoin="round"/>
<line x1="32.7" y1="211.5" x2="32.7" y2="327.3" stroke="#5c5c5c" stroke-width="1.1"/>
<line x1="32.2" y1="326.8" x2="245.6" y2="326.8" stroke="#5c5c5c" stroke-width="1.1"/>
<line x1="33" y1="217.2" x2="35" y2="217.2" stroke="#5c5c5c" stroke-width="0.9"/><line x1="33" y1="231.1" x2="35" y2="231.1" stroke="#5c5c5c" stroke-width="0.9"/><line x1="33" y1="244.9" x2="35" y2="244.9" stroke="#5c5c5c" stroke-width="0.9"/><line x1="33" y1="258.8" x2="35" y2="258.8" stroke="#5c5c5c" stroke-width="0.9"/><line x1="33" y1="272.7" x2="35" y2="272.7" stroke="#5c5c5c" stroke-width="0.9"/><line x1="33" y1="286.5" x2="35" y2="286.5" stroke="#5c5c5c" stroke-width="0.9"/><line x1="33" y1="300.4" x2="35" y2="300.4" stroke="#5c5c5c" stroke-width="0.9"/><line x1="33" y1="314.3" x2="35" y2="314.3" stroke="#5c5c5c" stroke-width="0.9"/>
<line x1="52.9" y1="324.6" x2="52.9" y2="326.8" stroke="#5c5c5c" stroke-width="0.9"/><line x1="73.9" y1="324.6" x2="73.9" y2="326.8" stroke="#5c5c5c" stroke-width="0.9"/><line x1="94.9" y1="324.6" x2="94.9" y2="326.8" stroke="#5c5c5c" stroke-width="0.9"/><line x1="115.9" y1="324.6" x2="115.9" y2="326.8" stroke="#5c5c5c" stroke-width="0.9"/><line x1="137.0" y1="324.6" x2="137.0" y2="326.8" stroke="#5c5c5c" stroke-width="0.9"/><line x1="158.0" y1="324.6" x2="158.0" y2="326.8" stroke="#5c5c5c" stroke-width="0.9"/><line x1="179.0" y1="324.6" x2="179.0" y2="326.8" stroke="#5c5c5c" stroke-width="0.9"/><line x1="200.0" y1="324.6" x2="200.0" y2="326.8" stroke="#5c5c5c" stroke-width="0.9"/><line x1="221.0" y1="324.6" x2="221.0" y2="326.8" stroke="#5c5c5c" stroke-width="0.9"/><line x1="242.0" y1="324.6" x2="242.0" y2="326.8" stroke="#5c5c5c" stroke-width="0.9"/>
<g class="ax" text-anchor="end">
<text x="29.6" y="218.3">nm 50</text><text x="29.6" y="232.8">40</text><text x="29.6" y="247.1">30</text><text x="29.6" y="261.4">20</text><text x="29.6" y="275.7">10</text><text x="29.6" y="290.0">0</text><text x="29.6" y="304.3">–10</text><text x="29.6" y="318.6">–20</text>
</g>
<g class="ax">
<text x="50.9" y="339.5" text-anchor="middle">0.5</text>
<text x="72.3" y="339.5" text-anchor="middle">1.0</text>
<text x="93.69999999999999" y="339.5" text-anchor="middle">1.5</text>
<text x="115.1" y="339.5" text-anchor="middle">2.0</text>
<text x="136.5" y="339.5" text-anchor="middle">2.5</text>
<text x="157.9" y="339.5" text-anchor="middle">3.0</text>
<text x="179.29999999999998" y="339.5" text-anchor="middle">3.5</text>
<text x="200.7" y="339.5" text-anchor="middle">4.0</text>
<text x="222.1" y="339.5" text-anchor="middle">4.5</text>
<text x="243.7" y="339.5" text-anchor="middle">µm</text>
</g>
<text class="cap" x="128.3" y="358.2" text-anchor="middle">(<tspan font-weight="bold">c</tspan>)</text>
<!-- chart d -->
<line x1="349.7" y1="216.5" x2="349.7" y2="327" stroke="#e0f5e1" stroke-width="1.2"/>
<line x1="370.8" y1="216.5" x2="370.8" y2="327" stroke="#e0f5e1" stroke-width="1.2"/>
<line x1="391.8" y1="216.5" x2="391.8" y2="327" stroke="#e0f5e1" stroke-width="1.2"/>
<line x1="412.8" y1="216.5" x2="412.8" y2="327" stroke="#e0f5e1" stroke-width="1.2"/>
<line x1="433.9" y1="216.5" x2="433.9" y2="327" stroke="#e0f5e1" stroke-width="1.2"/>
<line x1="454.9" y1="216.5" x2="454.9" y2="327" stroke="#e0f5e1" stroke-width="1.2"/>
<line x1="475.9" y1="216.5" x2="475.9" y2="327" stroke="#e0f5e1" stroke-width="1.2"/>
<line x1="496.9" y1="216.5" x2="496.9" y2="327" stroke="#e0f5e1" stroke-width="1.2"/>
<line x1="518.0" y1="216.5" x2="518.0" y2="327" stroke="#e0f5e1" stroke-width="1.2"/>
<line x1="539.0" y1="216.5" x2="539.0" y2="327" stroke="#e0f5e1" stroke-width="1.2"/>
<line x1="330" y1="216.7" x2="539" y2="216.7" stroke="#e0f5e1" stroke-width="1.2"/>
<line x1="330" y1="235.3" x2="539" y2="235.3" stroke="#e0f5e1" stroke-width="1.2"/>
<line x1="330" y1="253.8" x2="539" y2="253.8" stroke="#e0f5e1" stroke-width="1.2"/>
<line x1="330" y1="272.4" x2="539" y2="272.4" stroke="#c4d6c4" stroke-width="1.2"/>
<line x1="330" y1="291.0" x2="539" y2="291.0" stroke="#e0f5e1" stroke-width="1.2"/>
<line x1="330" y1="309.5" x2="539" y2="309.5" stroke="#e0f5e1" stroke-width="1.2"/>
<path d="M329.6 263.7C329.9 264.4 330.9 266.7 331.6 267.9C332.3 269.1 333.3 268.9 334.0 270.8C334.7 272.7 335.1 275.7 335.7 279.3C336.2 282.9 336.6 289.0 337.3 292.5C338.0 296.0 339.0 300.7 339.8 300.4C340.6 300.1 341.4 294.6 342.2 290.8C343.0 287.0 344.0 279.8 344.7 277.7C345.4 275.6 345.8 279.6 346.3 278.5C346.9 277.4 347.4 275.3 348.0 271.0C348.6 266.7 349.1 258.8 349.6 252.7C350.1 246.6 350.5 240.1 351.0 234.6C351.5 229.1 352.0 222.9 352.6 219.9C353.2 216.9 354.0 216.6 354.6 216.6C355.2 216.6 355.5 216.9 356.2 219.9C356.9 222.9 358.0 229.1 358.7 234.6C359.4 240.1 359.7 246.8 360.3 252.7C360.9 258.6 361.8 264.5 362.4 270.0C363.0 275.5 363.5 283.0 364.1 285.9C364.7 288.8 365.5 287.8 366.1 287.6C366.7 287.4 367.0 284.2 367.7 284.6C368.4 285.0 369.4 288.8 370.2 290.0C371.0 291.2 371.9 291.1 372.6 291.7C373.3 292.2 373.8 293.3 374.3 293.3C374.9 293.3 375.4 291.5 375.9 291.7C376.4 291.9 376.9 294.5 377.5 294.5C378.1 294.5 378.8 293.4 379.5 291.7C380.2 290.0 381.0 285.0 381.7 284.3C382.4 283.6 383.1 286.2 383.8 287.6C384.5 289.0 385.4 293.3 386.1 292.5C386.8 291.7 387.6 285.9 388.2 282.6C388.8 279.3 389.3 275.7 389.9 272.8C390.4 269.9 390.9 265.7 391.5 265.4C392.1 265.1 392.9 268.6 393.6 271.1C394.3 273.6 395.2 279.2 395.9 280.2C396.6 281.2 397.1 278.5 397.6 276.9C398.2 275.2 398.6 270.9 399.2 270.3C399.8 269.8 400.3 272.2 400.9 273.6C401.4 275.1 402.0 278.3 402.5 279.0C403.0 279.7 403.6 279.0 404.1 277.7C404.6 276.4 405.1 273.3 405.5 271.1C405.9 268.9 406.2 265.3 406.8 264.7C407.4 264.1 408.3 267.0 409.1 267.3C409.9 267.6 410.6 266.6 411.4 266.3C412.2 266.0 413.3 264.4 414.0 265.5C414.7 266.6 415.1 270.2 415.7 272.8C416.2 275.4 416.8 279.2 417.3 281.1C417.9 283.0 418.4 284.6 419.0 284.0C419.6 283.4 420.1 280.5 420.6 277.8C421.1 275.1 421.5 271.2 422.2 267.9C422.9 264.6 423.9 260.2 424.7 258.1C425.5 256.0 426.5 255.5 427.2 255.1C427.9 254.7 428.2 254.4 428.8 255.6C429.4 256.8 429.9 261.9 430.5 262.2C431.1 262.5 431.9 259.1 432.6 257.2C433.3 255.3 434.1 250.3 434.6 250.7C435.2 251.1 435.4 256.7 435.9 259.7C436.4 262.7 436.9 267.6 437.5 268.7C438.1 269.8 438.8 268.1 439.5 266.3C440.2 264.5 441.2 260.0 442.0 258.1C442.8 256.2 443.7 254.0 444.4 254.8C445.1 255.6 445.5 259.7 446.0 263.0C446.5 266.3 446.8 270.9 447.4 274.5C447.9 278.1 448.6 281.4 449.3 284.3C450.0 287.2 450.5 289.9 451.3 291.7C452.1 293.5 453.4 293.1 454.2 295.3C455.0 297.5 455.8 304.2 456.4 304.8C457.0 305.4 457.5 298.5 458.1 298.7C458.7 298.9 459.3 306.8 460.0 306.1C460.7 305.4 461.6 297.8 462.2 294.6C462.8 291.4 463.2 290.0 463.6 287.0C464.1 284.0 464.4 279.6 464.9 276.5C465.4 273.4 465.9 270.5 466.6 268.7C467.4 266.9 468.6 265.2 469.4 265.5C470.2 265.8 470.9 268.8 471.5 270.4C472.1 271.9 472.6 274.5 473.2 274.8C473.8 275.1 474.3 273.1 474.8 272.0C475.3 270.9 475.6 269.3 476.4 268.2C477.2 267.1 478.8 265.3 479.7 265.5C480.6 265.7 481.2 267.5 481.8 269.6C482.4 271.7 482.9 275.8 483.5 277.9C484.1 280.0 484.9 282.0 485.5 282.1C486.1 282.2 486.4 280.2 486.8 278.6C487.2 277.0 487.5 272.4 487.9 272.2C488.3 272.0 488.8 275.5 489.2 277.5C489.6 279.5 489.9 283.5 490.5 284.4C491.1 285.2 491.9 282.9 492.6 282.6C493.4 282.4 494.3 283.9 495.0 282.9C495.7 281.9 496.3 278.8 496.7 276.6C497.1 274.5 497.2 274.0 497.6 270.0C498.0 266.0 498.6 258.3 499.1 252.7C499.6 247.1 500.1 240.7 500.7 236.3C501.3 231.9 502.1 227.9 502.7 226.4C503.3 224.9 503.8 227.3 504.3 227.2C504.9 227.1 505.4 225.4 506.0 225.6C506.6 225.8 507.3 227.8 507.9 228.1C508.4 228.4 508.8 227.1 509.3 227.2C509.8 227.3 510.4 226.8 510.9 228.9C511.4 231.0 511.8 234.8 512.5 239.6C513.2 244.4 514.3 252.5 515.0 257.6C515.7 262.7 516.0 267.4 516.5 270.0C517.0 272.6 517.5 273.3 518.0 273.3C518.5 273.3 519.1 269.7 519.6 270.0C520.1 270.3 520.7 271.3 521.3 274.9C521.9 278.4 522.7 286.0 523.4 291.3C524.1 296.6 524.7 303.3 525.4 306.9C526.1 310.5 526.9 313.2 527.7 312.8C528.5 312.4 529.4 306.8 530.0 304.5C530.6 302.2 530.7 302.2 531.6 299.0C532.5 295.8 534.3 289.8 535.2 285.0C536.1 280.2 536.7 273.1 537.2 270.0C537.8 266.9 538.3 267.2 538.5 266.6" fill="none" stroke="#4f70ee" stroke-width="1.05" stroke-linejoin="round"/>
<line x1="329.7" y1="212.5" x2="329.7" y2="327.3" stroke="#1a1a1a" stroke-width="1.1"/>
<line x1="329" y1="326.8" x2="541.5" y2="326.8" stroke="#1a1a1a" stroke-width="1.1"/>
<line x1="330" y1="216.7" x2="332.3" y2="216.7" stroke="#1a1a1a" stroke-width="0.9"/><line x1="330" y1="235.3" x2="332.3" y2="235.3" stroke="#1a1a1a" stroke-width="0.9"/><line x1="330" y1="253.8" x2="332.3" y2="253.8" stroke="#1a1a1a" stroke-width="0.9"/><line x1="330" y1="272.4" x2="332.3" y2="272.4" stroke="#1a1a1a" stroke-width="0.9"/><line x1="330" y1="291.0" x2="332.3" y2="291.0" stroke="#1a1a1a" stroke-width="0.9"/><line x1="330" y1="309.5" x2="332.3" y2="309.5" stroke="#1a1a1a" stroke-width="0.9"/>
<line x1="349.7" y1="324.6" x2="349.7" y2="326.8" stroke="#1a1a1a" stroke-width="0.9"/><line x1="370.8" y1="324.6" x2="370.8" y2="326.8" stroke="#1a1a1a" stroke-width="0.9"/><line x1="391.8" y1="324.6" x2="391.8" y2="326.8" stroke="#1a1a1a" stroke-width="0.9"/><line x1="412.8" y1="324.6" x2="412.8" y2="326.8" stroke="#1a1a1a" stroke-width="0.9"/><line x1="433.9" y1="324.6" x2="433.9" y2="326.8" stroke="#1a1a1a" stroke-width="0.9"/><line x1="454.9" y1="324.6" x2="454.9" y2="326.8" stroke="#1a1a1a" stroke-width="0.9"/><line x1="475.9" y1="324.6" x2="475.9" y2="326.8" stroke="#1a1a1a" stroke-width="0.9"/><line x1="496.9" y1="324.6" x2="496.9" y2="326.8" stroke="#1a1a1a" stroke-width="0.9"/><line x1="518.0" y1="324.6" x2="518.0" y2="326.8" stroke="#1a1a1a" stroke-width="0.9"/><line x1="539.0" y1="324.6" x2="539.0" y2="326.8" stroke="#1a1a1a" stroke-width="0.9"/>
<g class="ax" text-anchor="end">
<text x="326" y="220.5">nm 30</text><text x="326" y="239.1">20</text><text x="326" y="257.6">10</text><text x="326" y="276.2">0</text><text x="326" y="294.8">–10</text><text x="326" y="313.3">–20</text>
</g>
<g class="ax">
<text x="348.0" y="339.5" text-anchor="middle">0.5</text>
<text x="369.29" y="339.5" text-anchor="middle">1.0</text>
<text x="390.58" y="339.5" text-anchor="middle">1.5</text>
<text x="411.87" y="339.5" text-anchor="middle">2.0</text>
<text x="433.15999999999997" y="339.5" text-anchor="middle">2.5</text>
<text x="454.45" y="339.5" text-anchor="middle">3.0</text>
<text x="475.74" y="339.5" text-anchor="middle">3.5</text>
<text x="497.03" y="339.5" text-anchor="middle">4.0</text>
<text x="518.3199999999999" y="339.5" text-anchor="middle">4.5</text>
<text x="540" y="339.5" text-anchor="middle">µm</text>
</g>
<text class="cap" x="424.3" y="358" text-anchor="middle">(<tspan font-weight="bold">d</tspan>)</text>
</svg>
</body></html>
